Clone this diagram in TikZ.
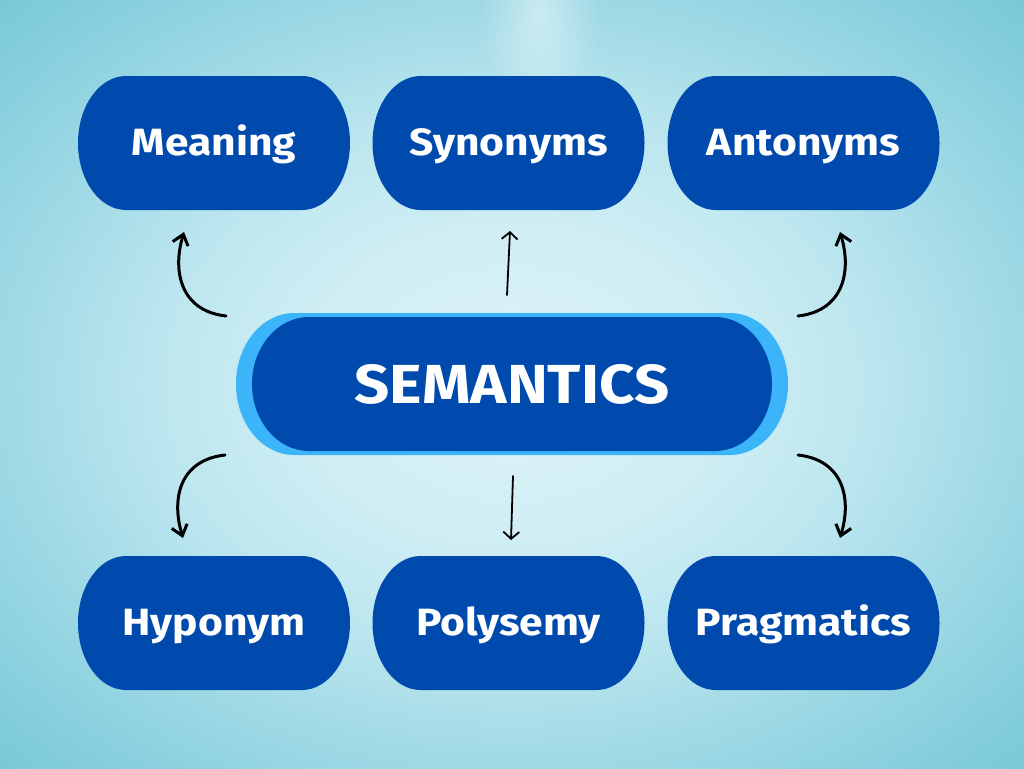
\documentclass[tikz,border=0pt]{standalone}
\usepackage{fontspec}
\setmainfont{Fira Sans}[FakeStretch=1.12]
\usetikzlibrary{arrows.meta,fadings}
\definecolor{dkblue}{HTML}{004AAD}
\definecolor{ltblue}{HTML}{3BB4FA}
\definecolor{bga}{HTML}{DEF3F8}
\definecolor{bgb}{HTML}{D0EEF4}
\definecolor{bgc}{HTML}{BCE6EF}
\definecolor{bgd}{HTML}{9ED9E5}
\definecolor{bge}{HTML}{78C8D8}
\pgfdeclareradialshading{bgshade}{\pgfpoint{0bp}{0bp}}{color(0bp)=(bga); color(20bp)=(bgb); color(35bp)=(bgc); color(50bp)=(bgd); color(71bp)=(bge)}
\tikzfading[name=glowfade, inner color=transparent!0, outer color=transparent!100]
\tikzset{
  pillfill/.style n args={3}{path picture={
    \fill[#1] ([xshift=#2]path picture bounding box.north west)
      -- ([xshift=-#2]path picture bounding box.north east)
      arc[start angle=90,end angle=-90,x radius=#2,y radius=#3]
      -- ([xshift=#2]path picture bounding box.south west)
      arc[start angle=270,end angle=90,x radius=#2,y radius=#3] -- cycle;}},
  box/.style={rectangle, minimum width=272pt, minimum height=134pt, inner sep=0pt,
    text=white, font=\fontsize{38}{40}\selectfont\bfseries,
    text height=26pt, text depth=2pt, pillfill={dkblue}{48pt}{67pt}},
  hub/.style={rectangle, minimum width=552pt, minimum height=142pt, inner sep=0pt,
    text=white, font=\fontsize{55}{60}\selectfont\bfseries,
    text height=39pt, text depth=0pt,
    path picture={
      \fill[ltblue] ([xshift=58pt]path picture bounding box.north west)
        -- ([xshift=-58pt]path picture bounding box.north east)
        arc[start angle=90,end angle=-90,x radius=58pt,y radius=71pt]
        -- ([xshift=58pt]path picture bounding box.south west)
        arc[start angle=270,end angle=90,x radius=58pt,y radius=71pt] -- cycle;
      \fill[dkblue] ([xshift=73pt,yshift=-4pt]path picture bounding box.north west)
        -- ([xshift=-73pt,yshift=-4pt]path picture bounding box.north east)
        arc[start angle=90,end angle=-90,x radius=57pt,y radius=67pt]
        -- ([xshift=73pt,yshift=4pt]path picture bounding box.south west)
        arc[start angle=270,end angle=90,x radius=57pt,y radius=67pt] -- cycle;}},
  carr/.style={line width=3pt, line cap=round, line join=round,
    -{Straight Barb[length=10pt,width=16pt]}},
  sarr/.style={line width=1.8pt, line cap=round, line join=round,
    -{Straight Barb[length=7pt,width=16pt]}}
}
\begin{document}
\begin{tikzpicture}[x=1pt,y=-1pt]
\useasboundingbox (0,0) rectangle (1024,768);
\begin{scope}
\clip (0,0) rectangle (1024,768);
\node[inner sep=0pt, outer sep=0pt, xscale=10.2, yscale=7.65, transform shape] (bg) at (512,384) {\pgfuseshading{bgshade}};
\end{scope}
\fill[white,opacity=0.45,path fading=glowfade] (540,10) ellipse (60 and 120);

\node[box] (mean) at (214,143) {Meaning};
\node[box] (syn)  at (508.5,143) {Synonyms};
\node[box] (ant)  at (803.5,143) {Antonyms};
\node[box] (hyp)  at (214,623) {Hyponym};
\node[box] (pol)  at (508.5,623) {Polysemy};
\node[box] (pra)  at (803.5,623) {Pragmatics};
\node[hub] (sem)  at (512,384) {SEMANTICS};

\coordinate (s1) at (226,316); \coordinate (e1) at (184,232);
\coordinate (s2) at (507,295); \coordinate (e2) at (510,231);
\coordinate (s3) at (798,316); \coordinate (e3) at (840,232);
\coordinate (s4) at (225,455); \coordinate (e4) at (183,538);
\coordinate (s5) at (513,476); \coordinate (e5) at (511,540);
\coordinate (s6) at (798,455); \coordinate (e6) at (840,538);

\draw[carr] (s1) .. controls +(-45,-5) and +(-12,40) .. (e1);
\draw[sarr] (s2) -- (e2);
\draw[carr] (s3) .. controls +(45,-5) and +(12,40) .. (e3);
\draw[carr] (s4) .. controls +(-45,5) and +(-12,-40) .. (e4);
\draw[sarr] (s5) -- (e5);
\draw[carr] (s6) .. controls +(45,5) and +(12,-40) .. (e6);
\end{tikzpicture}
\end{document}
